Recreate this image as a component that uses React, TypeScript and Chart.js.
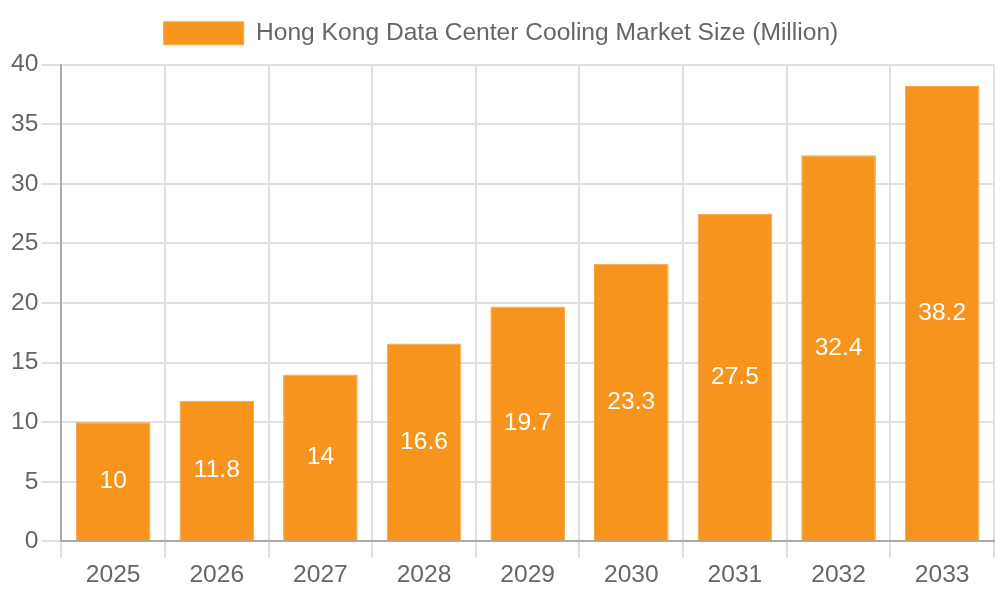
import React, { useEffect, useRef } from "react";
import { Chart, registerables, Plugin } from "chart.js";

Chart.register(...registerables);

const years = ["2025", "2026", "2027", "2028", "2029", "2030", "2031", "2032", "2033"];
const marketSize = [10, 11.8, 14, 16.6, 19.7, 23.3, 27.5, 32.4, 38.2];
const seriesLabel = "Hong Kong Data Center Cooling Market Size (Million)";

const FONT = "'Liberation Sans', Arial, Helvetica, sans-serif";
const SIZE = 24.6;

// draws each value in the middle of its bar
const barValues: Plugin<"bar"> = {
  id: "barValues",
  afterDatasetsDraw(chart) {
    const ctx = chart.ctx;
    const meta = chart.getDatasetMeta(0);
    ctx.save();
    ctx.fillStyle = "#ffffff";
    ctx.font = `${SIZE}px ${FONT}`;
    ctx.textAlign = "center";
    ctx.textBaseline = "middle";
    meta.data.forEach((bar: any, i) => {
      const { x, y, base } = bar.getProps(["x", "y", "base"], true);
      ctx.fillText(String(marketSize[i]), x, (y + base) / 2);
    });
    ctx.restore();
  },
};

// a bit more room under the legend
const legendSpacing: Plugin<"bar"> = {
  id: "legendSpacing",
  beforeInit(chart: any) {
    const fit = chart.legend.fit;
    chart.legend.fit = function () {
      fit.bind(chart.legend)();
      this.height += 9;
    };
  },
};

export default function App() {
  const chartRef = useRef<HTMLCanvasElement>(null);
  const chartInstance = useRef<Chart | null>(null);

  useEffect(() => {
    document.body.style.margin = "0";
    if (!chartRef.current) return;
    if (chartInstance.current) chartInstance.current.destroy();

    chartInstance.current = new Chart(chartRef.current, {
      type: "bar",
      data: {
        labels: years,
        datasets: [
          {
            label: seriesLabel,
            data: marketSize,
            backgroundColor: "#f7941e",
            borderColor: "#f9a443",
            borderWidth: 1,
          },
        ],
      },
      options: {
        responsive: true,
        maintainAspectRatio: false,
        animation: false,
        layout: { padding: { left: 8, right: 6, top: 11, bottom: 7 } },
        plugins: {
          legend: {
            labels: {
              boxWidth: 80,
              boxHeight: 23,
              color: "#666",
              font: { family: FONT, size: SIZE },
            },
          },
          tooltip: { enabled: false },
        },
        scales: {
          x: {
            grid: { color: "#e0e0e0", tickLength: 16, lineWidth: 2 },
            border: { color: "#aaa", width: 2 },
            ticks: { color: "#666", font: { family: FONT, size: SIZE } },
          },
          y: {
            min: 0,
            max: 40,
            ticks: { stepSize: 5, color: "#666", font: { family: FONT, size: SIZE } },
            grid: { color: "#e0e0e0", tickLength: 20, lineWidth: 2 },
            border: { color: "#aaa", width: 2 },
          },
        },
      },
      plugins: [barValues, legendSpacing],
    });

    return () => {
      if (chartInstance.current) {
        chartInstance.current.destroy();
        chartInstance.current = null;
      }
    };
  }, []);

  return (
    <div style={{ width: "1000px", height: "600px", position: "relative" }}>
      <canvas ref={chartRef} />
    </div>
  );
}
